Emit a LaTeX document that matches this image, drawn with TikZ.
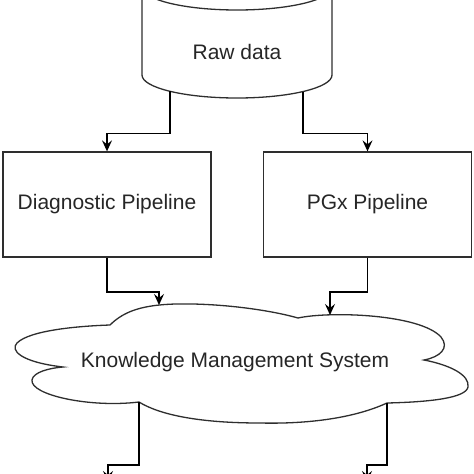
\documentclass[tikz,border=0pt]{standalone}
\usepackage{fontspec}
\setmainfont{Liberation Sans}
\usetikzlibrary{calc,arrows.meta}
\tikzset{
	outline/.style={line width=1.3pt, color=black!82},
	lbl/.style={text=black!85, font=\fontsize{21}{25}\selectfont, inner sep=0pt},
	box/.style={outline, draw, lbl, minimum width=208pt, minimum height=105pt},
	conn/.style={draw=black, line width=1.3pt, -{Stealth[length=11pt,width=10pt,inset=4pt]}},
}

\begin{document}
\begin{tikzpicture}[x=1pt,y=-1pt]
		%%%%% START %%%%%
		\useasboundingbox (0,0) rectangle (474,474);
		
		% raw data store
		\draw[outline] (237,-13) ellipse (95 and 23);
		\draw[outline] (142,-13) -- (142,75) arc (180:0:95 and 23) -- (332,-13);
		\node[lbl] (raw) at (237,52) {Raw data};
		\coordinate (rawL) at (170,91.3);
		\coordinate (rawR) at (303,91.5);
		
		% pipelines
		\node[box] (diag) at (107,204.5) {Diagnostic Pipeline};
		\node[box] (pgx) at (367.5,204.5) {PGx Pipeline};
		
		% knowledge management cloud
		\draw[outline, fill=white] (110,325)
			.. controls (125,310) and (145,305) .. (175,304)
			.. controls (220,303) and (270,310) .. (298,318)
			.. controls (330,311) and (420,314) .. (441,337)
			.. controls (450,348) and (440,357) .. (424,360)
			.. controls (450,365) and (470,375) .. (468,387)
			.. controls (466,398) and (430,402) .. (387,403)
			.. controls (350,420) and (300,424) .. (260,423)
			.. controls (200,423) and (160,415) .. (139,402)
			.. controls (90,408) and (30,395) .. (32,380)
			.. controls (33,372) and (50,368) .. (63,367)
			.. controls (20,362) and (10,350) .. (17,343)
			.. controls (30,330) and (80,326) .. cycle;
		\node[lbl] (kms) at (235,362) {Knowledge Management System};
		\coordinate (kmsL) at (159,305);
		\coordinate (kmsR) at (330,315);
		\coordinate (kmsBL) at (139,402);
		\coordinate (kmsBR) at (387,403);
		\coordinate (outL) at (108,482);
		\coordinate (outR) at (367,482);
		
		% connectors
		\draw[conn] (rawL) |- ($(diag.north)+(0,-18)$) -- (diag.north);
		\draw[conn] (rawR) |- ($(pgx.north)+(0,-18)$) -- (pgx.north);
		\draw[conn] (diag.south) |- ($(kmsL)+(0,-13)$) -- (kmsL);
		\draw[conn] (pgx.south) |- ($(kmsR)+(0,-23)$) -- (kmsR);
		\draw[conn] (kmsBL) |- ($(outL)+(0,-17)$) -- (outL);
		\draw[conn] (kmsBR) |- ($(outR)+(0,-17)$) -- (outR);
		
		%%%%% END %%%%%
	\end{tikzpicture}
\end{document}
